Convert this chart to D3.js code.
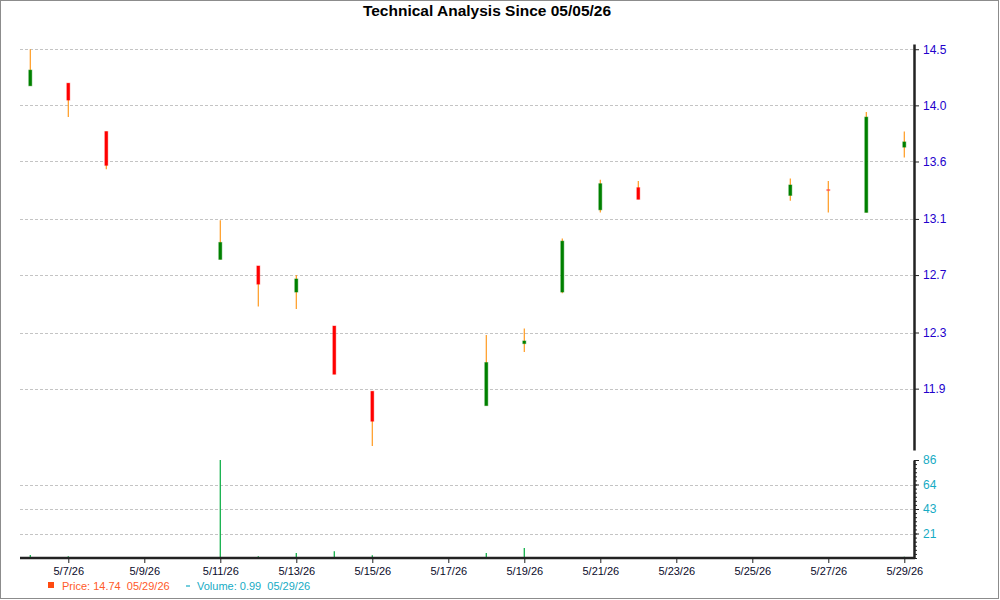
<!DOCTYPE html>
<html lang="en">
<head>
    <meta charset="UTF-8">
    <title>Technical Analysis</title>
    <script src="https://d3js.org/d3.v7.min.js"></script>
    <style>
        body {
            margin: 0;
            background: #fff;
        }
        svg text {
            font-family: "Liberation Sans", Arial, sans-serif;
        }
        .grid line {
            stroke: #c4c4c4;
            stroke-dasharray: 3,2;
        }
    </style>
</head>
<body>
    <svg width="1000" height="600"></svg>
    <script>
        // Daily candles
        const dates   = ["2026-05-06","2026-05-07","2026-05-08","2026-05-11","2026-05-12","2026-05-13","2026-05-14","2026-05-15",
                         "2026-05-18","2026-05-19","2026-05-20","2026-05-21","2026-05-22","2026-05-26","2026-05-27","2026-05-28","2026-05-29"];
        const opens   = [14.20, 14.22, 13.85, 12.87, 12.82, 12.62, 12.36, 11.86, 11.75, 12.225, 12.62, 13.25, 13.42, 13.36, 13.405, 13.23, 13.73];
        const highs   = [14.48, 14.22, 13.85, 13.17, 12.82, 12.75, 12.36, 11.86, 12.29, 12.34, 13.03, 13.48, 13.47, 13.49, 13.47, 14.00, 13.85];
        const lows    = [14.20, 13.96, 13.56, 12.87, 12.51, 12.49, 11.99, 11.44, 11.75, 12.16, 12.61, 13.23, 13.33, 13.32, 13.23, 13.23, 13.65];
        const closes  = [14.32, 14.09, 13.59, 13.00, 12.68, 12.72, 11.99, 11.63, 12.08, 12.245, 13.01, 13.45, 13.33, 13.44, 13.40, 13.96, 13.77];
        const volumes = [2.6, 1.5, 0.4, 86, 1.5, 4.4, 6.0, 2.5, 4.3, 8.7, 0.5, 0.5, 0.4, 0.5, 0.3, 0.6, 0.99];

        // Axis ticks
        const priceTicks = [11.88, 12.31, 12.75, 13.18, 13.62, 14.05, 14.48];
        const priceTickLabels = ["11.9", "12.3", "12.7", "13.1", "13.6", "14.0", "14.5"];
        const volTicks = [21.5, 43, 64.5, 86];
        const volTickLabels = ["21", "43", "64", "86"];
        const dateTicks = ["2026-05-07","2026-05-09","2026-05-11","2026-05-13","2026-05-15","2026-05-17",
                           "2026-05-19","2026-05-21","2026-05-23","2026-05-25","2026-05-27","2026-05-29"];

        const parse = d3.utcParse("%Y-%m-%d");
        const fmt = d3.utcFormat("%-m/%-d/%y");

        const data = dates.map((d, i) => ({
            date: parse(d), open: opens[i], high: highs[i], low: lows[i], close: closes[i], vol: volumes[i]
        }));

        const svg = d3.select("svg");
        const left = 20, right = 914;

        // Scales
        const x = d3.scaleUtc()
                    .domain([parse("2026-05-06"), parse("2026-05-29")])
                    .range([30.3, 904.3]);
        const y = d3.scaleLinear().domain([11.41, 14.52]).range([450, 44]);
        const yv = d3.scaleLinear().domain([0, 86]).range([558, 460]);

        // Outer border
        svg.append("rect")
           .attr("x", 0.5).attr("y", 0.5)
           .attr("width", 998).attr("height", 598)
           .attr("fill", "none").attr("stroke", "#8c8c8c");

        // Title
        svg.append("text")
           .attr("x", 487).attr("y", 16)
           .attr("text-anchor", "middle")
           .style("font-size", "15.5px").style("font-weight", "bold")
           .text("Technical Analysis Since 05/05/26");

        // Grid lines
        svg.append("g").attr("class", "grid")
           .selectAll("line").data(priceTicks).join("line")
           .attr("x1", left).attr("x2", right)
           .attr("y1", d => Math.round(y(d)) + 0.5).attr("y2", d => Math.round(y(d)) + 0.5);

        svg.append("g").attr("class", "grid")
           .selectAll("line").data(volTicks.slice(0, 3)).join("line")
           .attr("x1", left).attr("x2", right)
           .attr("y1", d => Math.round(yv(d)) + 0.5).attr("y2", d => Math.round(yv(d)) + 0.5);

        // Volume bars
        svg.append("g")
           .selectAll("line").data(data).join("line")
           .attr("x1", d => x(d.date)).attr("x2", d => x(d.date))
           .attr("y1", yv(0)).attr("y2", d => yv(d.vol))
           .attr("stroke", "#12b04a").attr("stroke-width", 1.3);

        // Candles
        const bodyColor = d => {
            const h = Math.abs(y(d.open) - y(d.close));
            if (d.close >= d.open) return "#008000";
            return h < 1.5 ? "#ff9a9a" : "#ff0000";
        };
        const candles = svg.append("g").selectAll("g").data(data).join("g");
        candles.append("line")
               .attr("x1", d => x(d.date)).attr("x2", d => x(d.date))
               .attr("y1", d => y(d.high)).attr("y2", d => y(d.low))
               .attr("stroke", "#ff9a1f").attr("stroke-width", 1.2);
        candles.append("rect")
               .attr("x", d => x(d.date) - 1.5)
               .attr("width", 3)
               .attr("y", d => y(Math.max(d.open, d.close)))
               .attr("height", d => Math.max(1, Math.abs(y(d.open) - y(d.close))))
               .attr("fill", bodyColor)
               .attr("stroke", d => d.close >= d.open ? "rgba(0,128,0,0.45)" : "rgba(255,0,0,0.35)")
               .attr("stroke-width", 1);

        // Price axis (right)
        const py = svg.append("g")
           .attr("transform", `translate(${right},0)`)
           .call(d3.axisRight(y).tickValues(priceTicks)
                   .tickFormat((d, i) => priceTickLabels[i])
                   .tickSize(5).tickSizeOuter(0).tickPadding(4));
        py.select(".domain").attr("stroke", "#222").attr("stroke-width", 2.5);
        py.selectAll(".tick line").attr("stroke", "#222");
        py.selectAll(".tick text").attr("fill", "#2200cc").style("font-size", "12px");

        // Volume axis (right), minor ticks first
        svg.append("g")
           .attr("transform", `translate(${right},0)`)
           .call(d3.axisRight(yv).tickValues(d3.range(0, 24).map(k => k * 86 / 24))
                   .tickFormat("").tickSize(3).tickSizeOuter(0))
           .call(g => g.select(".domain").remove())
           .selectAll(".tick line").attr("stroke", "#222");

        const vy = svg.append("g")
           .attr("transform", `translate(${right},0)`)
           .call(d3.axisRight(yv).tickValues(volTicks)
                   .tickFormat((d, i) => volTickLabels[i])
                   .tickSize(5).tickSizeOuter(0).tickPadding(4));
        vy.select(".domain").attr("stroke", "#222").attr("stroke-width", 2.5);
        vy.selectAll(".tick line").attr("stroke", "#222");
        vy.selectAll(".tick text").attr("fill", "#16abc4").style("font-size", "12px");

        // Date axis (bottom)
        const xa = svg.append("g")
           .attr("transform", `translate(0,${yv(0)})`)
           .call(d3.axisBottom(x).tickValues(dateTicks.map(parse))
                   .tickFormat(fmt).tickSize(5).tickSizeOuter(0).tickPadding(4));
        xa.select(".domain").remove();
        xa.selectAll(".tick line").attr("stroke", "#222");
        xa.selectAll(".tick text").attr("fill", "#0a0a2a").style("font-size", "11px");

        svg.append("line")
           .attr("x1", left).attr("x2", right + 1)
           .attr("y1", yv(0)).attr("y2", yv(0))
           .attr("stroke", "#222").attr("stroke-width", 2.5);

        // Legend
        const legend = svg.append("g").style("font-size", "11px");
        legend.append("rect")
              .attr("x", 48).attr("y", 582).attr("width", 6).attr("height", 6)
              .attr("fill", "#ff4a10");
        legend.append("text")
              .attr("x", 62).attr("y", 590)
              .attr("fill", "#ff5a2a")
              .attr("xml:space", "preserve").style("white-space", "pre")
              .text("Price: 14.74  05/29/26");
        legend.append("line")
              .attr("x1", 186).attr("x2", 190).attr("y1", 586).attr("y2", 586)
              .attr("stroke", "#16abc4").attr("stroke-width", 1.2);
        legend.append("text")
              .attr("x", 197).attr("y", 590)
              .attr("fill", "#16abc4")
              .attr("xml:space", "preserve").style("white-space", "pre")
              .text("Volume: 0.99  05/29/26");
    </script>
</body>
</html>
